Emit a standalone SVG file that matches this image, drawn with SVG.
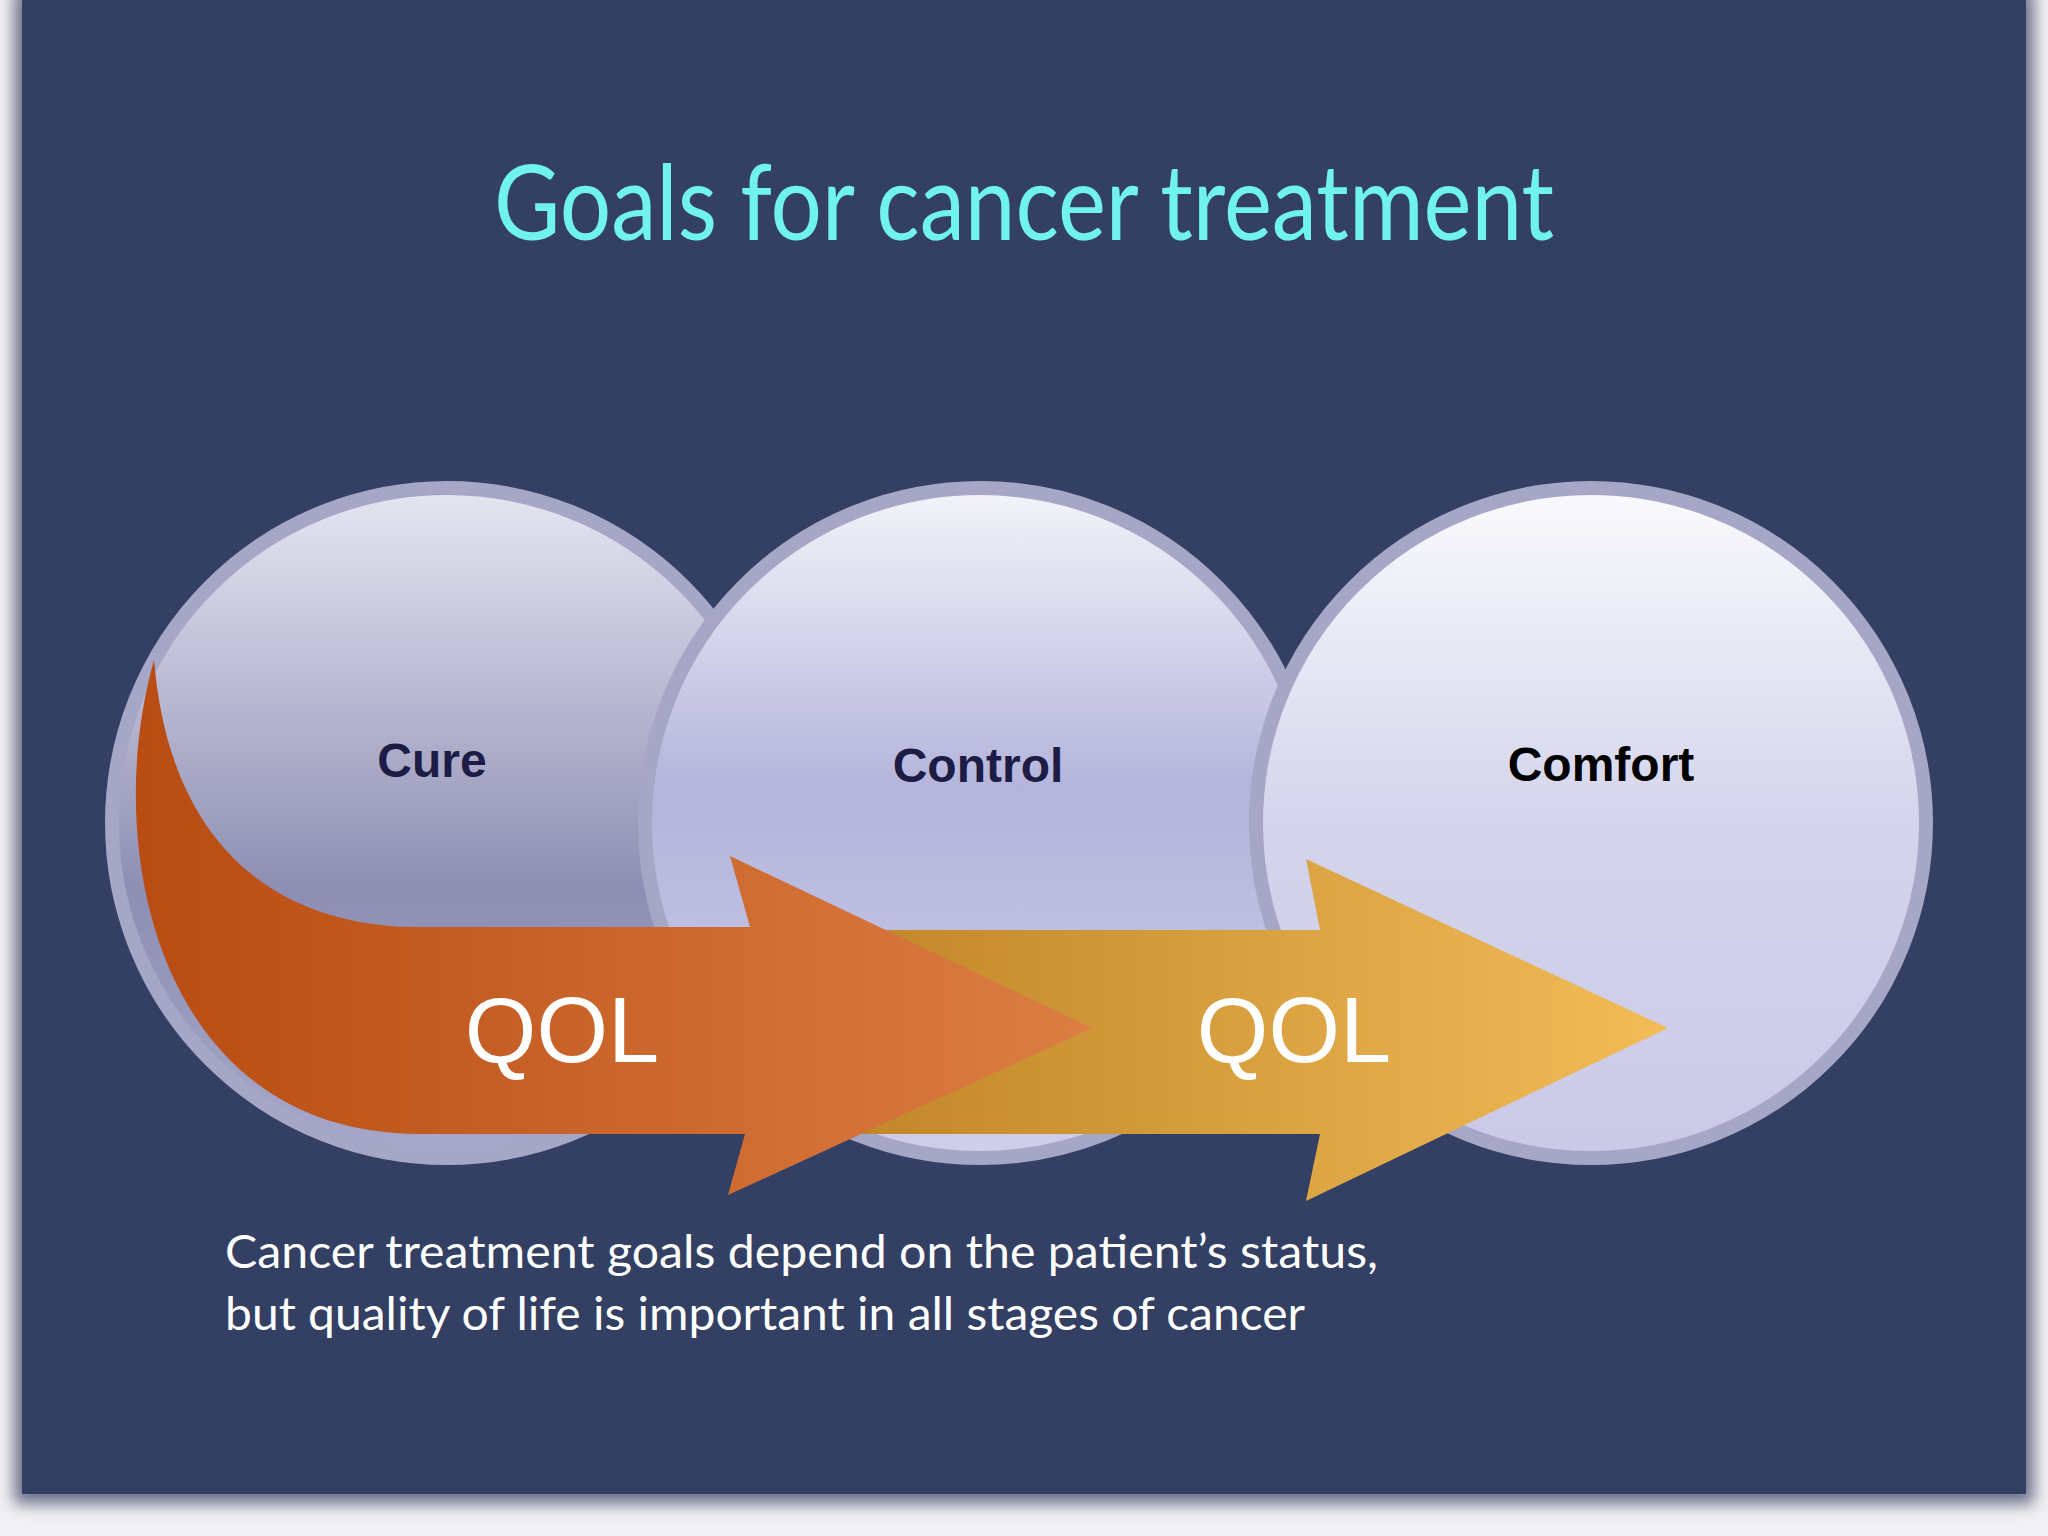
<svg xmlns="http://www.w3.org/2000/svg" width="2048" height="1536" viewBox="0 0 2048 1536">
<defs>
<filter id="blur" x="-5%" y="-5%" width="110%" height="110%"><feGaussianBlur stdDeviation="8"/></filter>
<linearGradient id="ball" x1="0" y1="0" x2="0" y2="1"><stop offset="0" stop-color="#f4f4fa"/><stop offset="0.45" stop-color="#b4b4dc"/><stop offset="1" stop-color="#cfcfea"/></linearGradient>
<linearGradient id="ball1" x1="0" y1="0" x2="0" y2="1"><stop offset="0" stop-color="#e6e6f2"/><stop offset="0.6" stop-color="#8e8eb4"/><stop offset="1" stop-color="#a8a8cc"/></linearGradient>
<linearGradient id="ball3" x1="0" y1="0" x2="0" y2="1"><stop offset="0" stop-color="#fafafd"/><stop offset="0.5" stop-color="#d4d4ec"/><stop offset="1" stop-color="#cacae8"/></linearGradient>
<linearGradient id="org" x1="0" y1="0" x2="1" y2="0"><stop offset="0" stop-color="#b84c12"/><stop offset="1" stop-color="#dc7e44"/></linearGradient>
<linearGradient id="yel" x1="0" y1="0" x2="1" y2="0"><stop offset="0" stop-color="#c08528"/><stop offset="1" stop-color="#f2bc58"/></linearGradient>
<style>
.ring{stroke:#a6a6c6;stroke-width:14}
.lbl{font-family:"Liberation Sans",Arial,sans-serif;font-weight:bold;font-size:48px;text-anchor:middle}
.qol{font-family:"Liberation Sans",Arial,sans-serif;font-size:92px;fill:#ffffff;text-anchor:middle}
.body{font-family:Lato,"Open Sans",sans-serif;font-size:46px;fill:#ffffff}
</style>
</defs>
<rect width="2048" height="1536" fill="#f2f2f4"/>
<rect x="14" y="-10" width="2020" height="1514" fill="#6a7088" filter="url(#blur)"/>
<rect x="22" y="0" width="2004" height="1494" fill="#334063"/>
<text x="1024" y="240" font-family="Lato,'Open Sans',sans-serif" font-size="104" fill="#6ff2f0" text-anchor="middle" textLength="1060" lengthAdjust="spacingAndGlyphs">Goals for cancer treatment</text>
<g id="cure"><circle cx="447" cy="823" r="335" fill="url(#ball1)" class="ring"/><text x="432" y="777" class="lbl" fill="#1c1c44">Cure</text></g>
<g id="control"><circle cx="980" cy="823" r="335" fill="url(#ball)" class="ring"/><text x="978" y="782" class="lbl" fill="#1c1c44">Control</text></g>
<g id="comfort"><circle cx="1591" cy="823" r="335" fill="url(#ball3)" class="ring"/><text x="1601" y="781" class="lbl" fill="#000000">Comfort</text></g>
<g id="connectors">
<path d="M836,930 L1320,930 L1306,859 L1668,1028 L1306,1201 L1320,1134 L836,1134 Z" fill="url(#yel)"/>
<path d="M154,660 C100,850 160,1134 420,1134 L745,1134 L728,1195 L1092,1028 L730,856 L750,927 L420,927 C280,927 170,850 154,660 Z" fill="url(#org)"/>
</g>
<text x="562" y="1062" class="qol">QOL</text>
<text x="1294" y="1062" class="qol">QOL</text>
<text x="225" y="1268" class="body" textLength="1153" lengthAdjust="spacingAndGlyphs">Cancer treatment goals depend on the patient’s status,</text>
<text x="225" y="1330" class="body" textLength="1080" lengthAdjust="spacingAndGlyphs">but quality of life is important in all stages of cancer</text>
</svg>
